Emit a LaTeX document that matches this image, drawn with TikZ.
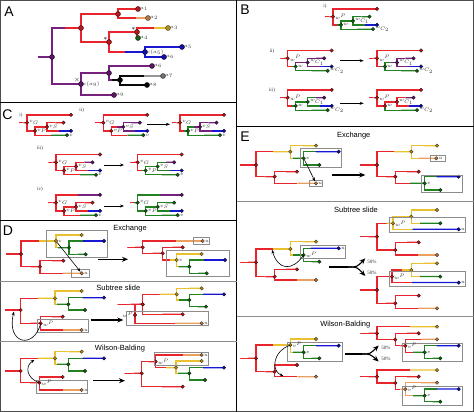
\documentclass[tikz,border=0pt]{standalone}
\usepackage{fontspec}
\setmainfont{Liberation Serif}
\setsansfont{Liberation Sans}
\usetikzlibrary{calc,arrows.meta}
\definecolor{cR}{RGB}{232,36,44}
\definecolor{cO}{RGB}{236,160,96}
\definecolor{cY}{RGB}{232,192,48}
\definecolor{cG}{RGB}{34,130,34}
\definecolor{cB}{RGB}{24,24,210}
\definecolor{cP}{RGB}{118,32,128}
\definecolor{cS}{RGB}{150,150,150}
\definecolor{cK}{RGB}{10,10,10}
\def\getcols#1/#2/#3\relax{\def\colA{#1}\def\colB{#2}}
\def\dotlist{}
\newcommand\br[4][0.5]{\getcols#4/#4/\relax
 \draw[brl,color=\colA] (#2) |- ($(#2|-#3)!#1!(#3)$);
 \draw[brl,color=\colB] ($(#2|-#3)!#1!(#3)$) -- (#3);
 \xdef\dotlist{\unexpanded\expandafter{\dotlist}\noexpand\dt{#3}{\colB}}}
\newcommand\dt[2]{\node[dot,fill=#2!75!black,draw=#2!35!black] (#1o) at (#1) {};}
\newcommand\flushdots{\dotlist\gdef\dotlist{}}
\def\pf{X}
\newcommand\ctree[9]{%
 \begin{scope}[shift={(#1,#2)}]
  \coordinate (\pf s) at (-7.5,0); \coordinate (\pf r) at (0,0);
  \coordinate (\pf U) at (44,-7.8); \coordinate (\pf P) at (8,8.2);
  \coordinate (\pf S) at (20,4.2); \coordinate (\pf S1) at (36.5,0);
  \coordinate (\pf S2) at (44,8.2); \coordinate (\pf V) at (40,12.5);
 \end{scope}
 \br{\pf s}{\pf r}{#3}\br{\pf r}{\pf U}{#4}\br{\pf r}{\pf P}{#5}\br{\pf P}{\pf S}{#6}%
 \br{\pf S}{\pf S1}{#7}\br{\pf S}{\pf S2}{#8}\br{\pf P}{\pf V}{#9}\flushdots}
\newcommand\blabs[1]{\node[lab,anchor=west] at (#1r) {$w^P$};
 \node[lab,anchor=west] at (#1P) {$w$};
 \node[lab,anchor=west] at (#1S) {$w_{C_1}$};
 \node[lab,anchor=west] at (#1V) {$w_{C_2}$};}
\newcommand\clabs[1]{\node[lab,anchor=west] at (#1r) {$v_G$};
 \node[lab,anchor=west] at (#1P) {$v_P$};
 \node[lab,anchor=west] at (#1S) {$v_S$};
 \node[lab,anchor=west] at (#1V) {$v$};}
\begin{document}
\begin{tikzpicture}[x=1pt,y=-1pt,
 brl/.style={line width=1.25pt},
 dot/.style={circle,inner sep=0pt,minimum size=3.4pt,line width=0.45pt},
 lab/.style={font=\fontsize{4.5}{5}\selectfont,inner sep=0pt,xshift=2pt,text=black!80},
 ttl/.style={font=\fontsize{7.5}{8}\sffamily},
 pl/.style={font=\fontsize{14}{14}\sffamily},
 rn/.style={font=\fontsize{5}{5}\selectfont,text=black!80},
 bx/.style={draw=black!45,line width=0.8pt},
 ar/.style={line width=0.6pt,-{Stealth[length=4pt,width=3pt]}},
 bar/.style={line width=1.1pt,-{Stealth[length=6pt,width=5pt]}},
 sep/.style={line width=1.2pt},
 ssep/.style={line width=0.6pt,black!45}]
\useasboundingbox (0,0) rectangle (474,412);
% frame and dividers
\draw[line width=0.8pt,black!70] (0.4,0.4) rectangle (473.6,411.6);
\draw[sep] (236.5,0) -- (236.5,412);
\draw[sep] (0,102.5) -- (236.5,102.5);
\draw[sep] (0,220.5) -- (236.5,220.5);
\draw[sep] (236.5,126.5) -- (474,126.5);
\draw[ssep] (0,281) -- (236.5,281);
\draw[ssep] (0,341.5) -- (236.5,341.5);
\draw[ssep] (236.5,201.7) -- (474,201.7);
\draw[ssep] (236.5,316.7) -- (474,316.7);
% panel letters and titles
\node[pl] (LA) at (9,12) {A};
\node[pl] (LB) at (245,10) {B};
\node[pl] (LC) at (7.5,114.5) {C};
\node[pl] (LD) at (8,230.5) {D};
\node[pl] (LE) at (245,137) {E};
\node[ttl] (tD1) at (130,229) {Exchange};
\node[ttl] (tD2) at (118.3,288.3) {Subtree slide};
\node[ttl] (tD3) at (120,349) {Wilson-Balding};
\node[ttl] (tE1) at (353.7,135.7) {Exchange};
\node[ttl] (tE2) at (356,210) {Subtree slide};
\node[ttl] (tE3) at (345.3,325) {Wilson-Balding};
% ---------------- A
\begin{scope}[brl/.append style={line width=2pt},dot/.append style={minimum size=5pt},
  lab/.append style={font=\fontsize{5.5}{6}\selectfont}]
\coordinate (As) at (38,57); \coordinate (Ar) at (52,57);
\coordinate (An1) at (81,28); \coordinate (An2) at (118,14);
\coordinate (A1) at (138,9); \coordinate (A2) at (148,18);
\coordinate (An3) at (109,42); \coordinate (An4) at (137,32);
\coordinate (A3) at (168,28); \coordinate (A4) at (138,38);
\coordinate (An5) at (145,52); \coordinate (A5) at (182,47); \coordinate (A6) at (164,57);
\coordinate (An6) at (81,84); \coordinate (An7) at (109,73);
\coordinate (A7) at (152,66); \coordinate (An8) at (120,80);
\coordinate (A8) at (163,76); \coordinate (A9) at (147,85); \coordinate (A10) at (114,95);
\br{As}{Ar}{cP}
\br[0.45]{Ar}{An1}{cP/cR}
\br{An1}{An2}{cR}
\br{An2}{A1}{cR}
\br[0.6]{An2}{A2}{cR/cO}
\br{An1}{An3}{cR}
\br{An3}{An4}{cR}
\br[0.55]{An4}{A3}{cR/cY}
\br[0.55]{An4}{A4}{cR/cG}
\br[0.45]{An3}{An5}{cR/cB}
\br{An5}{A5}{cB}
\br{An5}{A6}{cB}
\br{Ar}{An6}{cP}
\br{An6}{An7}{cP}
\br{An7}{A7}{cP}
\br[0.3]{An7}{An8}{cP/cK}
\br[0.55]{An8}{A8}{cK/cS}
\br{An8}{A9}{cK}
\br{An6}{A10}{cP}
\flushdots
\node[lab,anchor=west] at (A1) {$a_1$};
\node[lab,anchor=west] at (A2) {$a_2$};
\node[lab,anchor=west] at (A3) {$a_3$};
\node[lab,anchor=west] at (A4) {$a_4$};
\node[lab,anchor=west] at (A5) {$a_5$};
\node[lab,anchor=west] at (A6) {$a_6$};
\node[lab,anchor=west] at (A7) {$a_6$};
\node[lab,anchor=west] at (A8) {$a_7$};
\node[lab,anchor=west] at (A9) {$a_8$};
\node[lab,anchor=west] at (A10) {$a_9$};
\node[lab,anchor=west] at (An5) {$c(a_5)$};
\node[lab,anchor=west] at (An6) {$c(a_9)$};
\node[font=\fontsize{7}{7}\selectfont] (st1) at (105.5,38.5) {$\ast$};
\node[font=\fontsize{7}{7}\selectfont] (st2) at (133.5,28.5) {$\ast$};
\node[font=\fontsize{6}{6}\selectfont] (cr1) at (77,80) {$\times$};
\end{scope}
% ---------------- B
\node[rn] (Bl1) at (325,6) {i)};
\node[rn] (Bl2) at (272,51.7) {ii)};
\node[rn] (Bl3) at (272,90) {iii)};
\def\pf{Bi}\ctree{333}{16.7}{cR}{cR}{cR/cG}{cG}{cG}{cG/cB}{cG}\blabs{Bi}
\def\pf{Bl}\ctree{287.7}{58.3}{cR}{cR}{cR/cG}{cP}{cP}{cP/cB}{cG}\blabs{Bl}
\def\pf{Bm}\ctree{377}{58.3}{cR}{cR}{cR/cG}{cG/cP}{cP}{cP/cB}{cG}\blabs{Bm}
\def\pf{Bn}\ctree{287.7}{97.7}{cR}{cR}{cR/cG}{cG}{cG/cP}{cG/cB}{cG}\blabs{Bn}
\def\pf{Bo}\ctree{377}{97.7}{cR}{cR}{cR}{cR}{cR/cP}{cR/cB}{cG}\blabs{Bo}
\coordinate (Ba1) at (340.3,60.7); \coordinate (Ba2) at (363.7,60.7);
\coordinate (Ba3) at (340.3,103.3); \coordinate (Ba4) at (363.7,103.3);
\draw[ar] (Ba1) -- (Ba2); \draw[ar] (Ba3) -- (Ba4);
% ---------------- C
\node[rn] (Cl1) at (21,115.5) {i)};
\node[rn] (Cl2) at (81.7,110) {ii)};
\node[rn] (Cl3) at (40,148) {iii)};
\node[rn] (Cl4) at (40,189.3) {iv)};
\def\pf{Ci}\ctree{27}{122.7}{cR}{cR}{cR}{cR}{cR}{cR/cB}{cR/cG}\clabs{Ci}
\def\pf{Cl}\ctree{103.3}{122.7}{cR}{cR}{cR}{cR/cP}{cP}{cP/cB}{cR/cG}\clabs{Cl}
\def\pf{Cm}\ctree{180}{122.7}{cR}{cR}{cR/cG}{cG/cP}{cP}{cP/cB}{cG}\clabs{Cm}
\def\pf{Cn}\ctree{56}{162.3}{cR}{cR}{cR}{cR}{cR/cP}{cR/cB}{cR/cG}\clabs{Cn}
\def\pf{Co}\ctree{137.7}{162.3}{cR}{cR}{cR/cG}{cG}{cG/cP}{cG/cB}{cG}\clabs{Co}
\def\pf{Cq}\ctree{56}{202.7}{cR}{cR/cP}{cR}{cR}{cR}{cR/cB}{cR/cG}\clabs{Cq}
\def\pf{Cr}\ctree{137.7}{202.7}{cR/cG}{cG/cP}{cG}{cG}{cG}{cG/cB}{cG}\clabs{Cr}
\coordinate (Ca1) at (146.7,124.3); \coordinate (Ca2) at (170,124.3);
\coordinate (Ca3) at (104,165); \coordinate (Ca4) at (124,165);
\coordinate (Ca5) at (104,206); \coordinate (Ca6) at (124,206);
\draw[ar] (Ca1) -- (Ca2); \draw[ar] (Ca3) -- (Ca4); \draw[ar] (Ca5) -- (Ca6);
% ---------------- D exchange
\coordinate (Dxs) at (6,254); \coordinate (Dxr) at (21,254); \coordinate (Dxv) at (56,241);
\coordinate (Dxy) at (81.7,235); \coordinate (Dxg) at (69,247.7); \coordinate (Dxb) at (104,241);
\coordinate (Dxh) at (85.7,254.3); \coordinate (Dxq) at (40,266.7); \coordinate (Dxe) at (63.3,260.7);
\coordinate (Dxu) at (81.7,273.3);
\br{Dxs}{Dxr}{cR}\br{Dxr}{Dxv}{cR/cY}\br{Dxv}{Dxy}{cY}\br[0.15]{Dxv}{Dxg}{cY/cG}
\br[0.4]{Dxg}{Dxb}{cG/cB}\br{Dxg}{Dxh}{cG}\br{Dxr}{Dxq}{cR}\br{Dxq}{Dxe}{cR}
\br[0.55]{Dxq}{Dxu}{cR/cO}\flushdots
\draw[bx] (46.7,230.7) rectangle (107.3,257.7);
\draw[bx] (71.7,269.3) rectangle (89.3,277.3);
\node[lab,anchor=west] at (Dxv) {$v$}; \node[lab,anchor=west] at (Dxu) {$u$};
\draw[ar,shorten <=2pt,shorten >=2pt] (Dxv) -- (Dxu);
\coordinate (Dxa1) at (98.3,259.3); \coordinate (Dxa2) at (128,259.3);
\draw[bar] (Dxa1) -- (Dxa2);
\coordinate (Dys) at (127.7,247.3); \coordinate (Dyr) at (142.7,247.3); \coordinate (Dyu) at (202.7,241);
\coordinate (Dyq) at (162.7,253.3); \coordinate (Dye) at (182.7,247.3); \coordinate (Dyv) at (176.7,260);
\coordinate (Dyy) at (201.7,254); \coordinate (Dyg) at (189.3,266.7); \coordinate (Dyb) at (225,260);
\coordinate (Dyh) at (206.7,273.3);
\br{Dys}{Dyr}{cR}\br[0.55]{Dyr}{Dyu}{cR/cO}\br{Dyr}{Dyq}{cR}\br{Dyq}{Dye}{cR}
\br{Dyq}{Dyv}{cR/cY}\br{Dyv}{Dyy}{cY}\br[0.15]{Dyv}{Dyg}{cY/cG}\br[0.4]{Dyg}{Dyb}{cG/cB}
\br{Dyg}{Dyh}{cG}\flushdots
\draw[bx] (193.3,237.7) rectangle (209.5,244.3);
\draw[bx] (166.7,250) rectangle (229.3,276.7);
\node[lab,anchor=west] at (Dyv) {$v$}; \node[lab,anchor=west] at (Dyu) {$u$};
% ---------------- D subtree slide
\coordinate (Dss) at (5,310); \coordinate (Dsr) at (20.7,310); \coordinate (Dsv) at (55,298.3);
\coordinate (Dsy) at (81.7,291); \coordinate (Dsg) at (68.3,304.3); \coordinate (Dsb) at (104,297.7);
\coordinate (Dsh) at (85,310); \coordinate (Dsw) at (40.7,323.3); \coordinate (Dse) at (62.7,316.7);
\coordinate (Dsu) at (81.7,330);
\br{Dss}{Dsr}{cR}\br{Dsr}{Dsv}{cR/cY}\br{Dsv}{Dsy}{cY}\br[0.15]{Dsv}{Dsg}{cY/cG}
\br[0.4]{Dsg}{Dsb}{cG/cB}\br{Dsg}{Dsh}{cG}\br{Dsr}{Dsw}{cR}\br{Dsw}{Dse}{cR}
\br[0.55]{Dsw}{Dsu}{cR/cO}\flushdots
\draw[bx] (37.3,319) rectangle (88.3,332.3);
\node[lab,anchor=west] at (Dsw) {$w^P$}; \node[lab,anchor=west] at (Dsu) {$u$};
\coordinate (Dsz) at (14,311.5);
\draw[ar] (Dsw) .. controls (34,350) and (6,344) .. (Dsz);
\coordinate (Dsa1) at (90.7,320); \coordinate (Dsa2) at (123.3,320);
\draw[bar] (Dsa1) -- (Dsa2);
\coordinate (Dts) at (118,304.3); \coordinate (Dtw) at (135,315); \coordinate (Dtr) at (142.7,304.3);
\coordinate (Dtv) at (176.7,294.3); \coordinate (Dty) at (201.7,288.3); \coordinate (Dtg) at (189.3,300);
\coordinate (Dtb) at (224,294.3); \coordinate (Dth) at (206,306.7); \coordinate (Dte) at (182.7,314.3);
\coordinate (Dtu) at (201.7,323.3);
\br{Dts}{Dtr}{cR}\br{Dtw}{Dtr}{cR}\br[0.6]{Dtw}{Dtu}{cR/cO}\br{Dtr}{Dtv}{cR/cY}
\br{Dtv}{Dty}{cY}\br[0.15]{Dtv}{Dtg}{cY/cG}\br[0.4]{Dtg}{Dtb}{cG/cB}\br{Dtg}{Dth}{cG}
\br{Dtr}{Dte}{cR}\flushdots\dt{Dtw}{cR}
\draw[bx] (126,311) rectangle (208.3,325.7);
\node[lab,anchor=east,xshift=-3.5pt] at (Dtw) {$w^P$}; \node[lab,anchor=west] at (Dtu) {$u$};
% ---------------- D Wilson-Balding
\coordinate (Dws) at (5,371); \coordinate (Dwr) at (20.7,371); \coordinate (Dwv) at (55,358.3);
\coordinate (Dwy) at (81.7,351.7); \coordinate (Dwg) at (68.3,364.3); \coordinate (Dwb) at (104,358.3);
\coordinate (Dwh) at (85,371); \coordinate (Dww) at (39.3,382.7); \coordinate (Dwe) at (62.7,377);
\coordinate (Dwu) at (81.7,390);
\br{Dws}{Dwr}{cR}\br{Dwr}{Dwv}{cR/cY}\br{Dwv}{Dwy}{cY}\br[0.15]{Dwv}{Dwg}{cY/cG}
\br[0.4]{Dwg}{Dwb}{cG/cB}\br{Dwg}{Dwh}{cG}\br{Dwr}{Dww}{cR}\br{Dww}{Dwe}{cR}
\br[0.55]{Dww}{Dwu}{cR/cO}\flushdots
\draw[bx] (36,380) rectangle (87.3,393.3);
\node[lab,anchor=west] at (Dww) {$w^P$}; \node[lab,anchor=west] at (Dwu) {$u$};
\coordinate (Dwz) at (34.5,359.8);
\draw[ar] (Dww) .. controls (26,378) and (25,366) .. (Dwz);
\coordinate (Dwa1) at (93.3,380.7); \coordinate (Dwa2) at (125,380.7);
\draw[bar] (Dwa1) -- (Dwa2);
\coordinate (Dvs) at (125,373.3); \coordinate (Dvr) at (141.7,373.3); \coordinate (Dvw) at (155.7,361.7);
\coordinate (Dvu) at (201.7,355); \coordinate (Dvv) at (176,367.7); \coordinate (Dvy) at (201.7,361);
\coordinate (Dvg) at (189.3,373.3); \coordinate (Dvb) at (224,367.7); \coordinate (Dvh) at (205,380);
\coordinate (Dve) at (182.7,386.7);
\br{Dvs}{Dvr}{cR}\br{Dvr}{Dvw}{cR}\br[0.6]{Dvw}{Dvu}{cR/cO}\br{Dvw}{Dvv}{cR/cY}
\br{Dvv}{Dvy}{cY}\br[0.15]{Dvv}{Dvg}{cY/cG}\br[0.4]{Dvg}{Dvb}{cG/cB}\br{Dvg}{Dvh}{cG}
\br{Dvr}{Dve}{cR}\flushdots
\draw[bx] (154,352.7) rectangle (208.3,365);
\node[lab,anchor=west] at (Dvw) {$w^P$}; \node[lab,anchor=west] at (Dvu) {$u$};
% ---------------- E exchange
\coordinate (Exs) at (240.3,165); \coordinate (Exr) at (256,165); \coordinate (Exy) at (290.3,151.7);
\coordinate (Exa) at (316,145.7); \coordinate (Exv) at (303.7,158.3); \coordinate (Exb) at (338.7,151.7);
\coordinate (Exh) at (319.3,165); \coordinate (ExL) at (274.7,176.7); \coordinate (Exe) at (297,171.7);
\coordinate (Exu) at (316,183.3);
\br{Exs}{Exr}{cR}\br{Exr}{Exy}{cR/cY}\br{Exy}{Exa}{cY}\br[0.2]{Exy}{Exv}{cY/cG}
\br[0.35]{Exv}{Exb}{cG/cB}\br{Exv}{Exh}{cG}\br{Exr}{ExL}{cR}\br{ExL}{Exe}{cR}
\br[0.55]{ExL}{Exu}{cR/cO}\flushdots
\draw[bx] (300.3,148.3) rectangle (341,167.3);
\draw[bx] (309.7,180.7) rectangle (322.7,186.7);
\node[lab,anchor=west] at (Exv) {$v$}; \node[lab,anchor=west] at (Exu) {$u$};
\draw[ar,shorten <=2pt,shorten >=2pt] (Exv) -- (Exu);
\coordinate (Exa1) at (332,175); \coordinate (Exa2) at (365.3,175);
\draw[bar] (Exa1) -- (Exa2);
\coordinate (Eys) at (360.3,165); \coordinate (Eyr) at (377,165); \coordinate (Eyy) at (411.3,151.7);
\coordinate (Eya) at (437,145.7); \coordinate (Eyu) at (436.3,158.3); \coordinate (EyL) at (395.3,176.7);
\coordinate (Eye) at (418.7,171.7); \coordinate (Eyv) at (424.7,183.3); \coordinate (Eyb) at (458.7,176.7);
\coordinate (Eyh) at (440.3,190);
\br{Eys}{Eyr}{cR}\br{Eyr}{Eyy}{cR/cY}\br{Eyy}{Eya}{cY}\br[0.3]{Eyy}{Eyu}{cY/cO}
\br{Eyr}{EyL}{cR}\br{EyL}{Eye}{cR}\br{EyL}{Eyv}{cR/cG}\br[0.35]{Eyv}{Eyb}{cG/cB}
\br{Eyv}{Eyh}{cG}\flushdots
\draw[bx] (430.3,155) rectangle (445,161.7);
\draw[bx] (421,175) rectangle (462,192.3);
\node[lab,anchor=west] at (Eyv) {$v$}; \node[lab,anchor=west] at (Eyu) {$u$};
% ---------------- E subtree slide
\coordinate (Ess) at (240.3,262.3); \coordinate (Esr) at (256,262.3); \coordinate (Esy) at (290.3,249);
\coordinate (Esa) at (316,241.7); \coordinate (Esw) at (303.7,255); \coordinate (Esb) at (338.7,248.3);
\coordinate (Esh) at (319.3,261.7); \coordinate (EsL) at (274.7,276.7); \coordinate (Ese) at (297,269.3);
\coordinate (Eso) at (316,280);
\br{Ess}{Esr}{cR}\br{Esr}{Esy}{cR/cY}\br{Esy}{Esa}{cY}\br[0.2]{Esy}{Esw}{cY/cG}
\br[0.2]{Esw}{Esb}{cG/cB}\br{Esw}{Esh}{cG}\br{Esr}{EsL}{cR}\br{EsL}{Ese}{cR}
\br[0.55]{EsL}{Eso}{cR/cO}\flushdots
\draw[bx] (300.3,245) rectangle (345.3,258.3);
\node[lab,anchor=west] at (Esw) {$w^P$}; \node[lab,anchor=west] at (Esb) {$u$};
\coordinate (Esz) at (272,249.8);
\draw[ar] (Esw) .. controls (292,272) and (278,270) .. (Esz);
\coordinate (Ef0) at (328.7,267); \coordinate (Ef1) at (348,267);
\coordinate (Ef2) at (365.3,258.3); \coordinate (Ef3) at (365.3,276);
\draw[line width=1.1pt] (Ef0) -- (Ef1);
\draw[bar] (Ef1) .. controls (357,267) .. (Ef2);
\draw[bar] (Ef1) .. controls (357,267) .. (Ef3);
\node[rn] (Ep1) at (372,261.5) {50\%}; \node[rn] (Ep2) at (372,272.5) {50\%};
\coordinate (E1s) at (360.3,236.7); \coordinate (E1r) at (377,236.7); \coordinate (E1w) at (393,223.3);
\coordinate (E1y) at (411.3,216.7); \coordinate (E1a) at (437,210); \coordinate (E1h) at (440.3,223.3);
\coordinate (E1b) at (458.7,229.3); \coordinate (E1L) at (395.3,250); \coordinate (E1e) at (418.7,242.3);
\coordinate (E1o) at (437,255);
\br{E1s}{E1r}{cR}\br[0.6]{E1r}{E1w}{cR/cY}\br{E1w}{E1y}{cY}\br{E1y}{E1a}{cY}
\br[0.3]{E1y}{E1h}{cY/cG}\br[0.3]{E1w}{E1b}{cY/cB}\br{E1r}{E1L}{cR}\br{E1L}{E1e}{cR}
\br[0.55]{E1L}{E1o}{cR/cO}\flushdots
\draw[bx] (389.7,217.7) rectangle (465.3,232.3);
\node[lab,anchor=west] at (E1w) {$w^P$}; \node[lab,anchor=west] at (E1b) {$u$};
\coordinate (E2s) at (360.3,290); \coordinate (E2r) at (377,290); \coordinate (E2w) at (392,276.6);
\coordinate (E2y) at (411.3,270); \coordinate (E2a) at (437,263.3); \coordinate (E2h) at (440.3,276.6);
\coordinate (E2b) at (458.7,282.6); \coordinate (E2L) at (395.3,303.3); \coordinate (E2e) at (418.7,295.6);
\coordinate (E2o) at (437,308.3);
\br{E2s}{E2r}{cR}\br{E2r}{E2w}{cR}\br{E2w}{E2y}{cR/cY}\br{E2y}{E2a}{cY}
\br[0.3]{E2y}{E2h}{cY/cG}\br[0.3]{E2w}{E2b}{cR/cB}\br{E2r}{E2L}{cR}\br{E2L}{E2e}{cR}
\br[0.55]{E2L}{E2o}{cR/cO}\flushdots
\draw[bx] (389.7,271.7) rectangle (465.3,286.7);
\node[lab,anchor=west] at (E2w) {$w^P$}; \node[lab,anchor=west] at (E2b) {$u$};
% ---------------- E Wilson-Balding
\coordinate (Ews) at (240.3,358.3); \coordinate (Ewr) at (256,358.3); \coordinate (Eww) at (290.3,345);
\coordinate (Ewa) at (316,339); \coordinate (Ewv) at (303.7,352.3); \coordinate (Ewb) at (338.7,345.7);
\coordinate (Ewh) at (319.3,358.3); \coordinate (EwL) at (274.7,371.7); \coordinate (Ewe) at (297,365);
\coordinate (Ewo) at (316,376.7);
\br{Ews}{Ewr}{cR}\br{Ewr}{Eww}{cR/cY}\br{Eww}{Ewa}{cY}\br[0.2]{Eww}{Ewv}{cY/cG}
\br[0.35]{Ewv}{Ewb}{cG/cB}\br{Ewv}{Ewh}{cG}\br{Ewr}{EwL}{cR}\br{EwL}{Ewe}{cR}
\br[0.55]{EwL}{Ewo}{cR/cO}\flushdots
\draw[bx] (287,342.7) rectangle (342,361.7);
\node[lab,anchor=west] at (Eww) {$v^P$}; \node[lab,anchor=west] at (Ewv) {$v$};
\coordinate (Ewz) at (283.7,376.2);
\draw[ar] (Eww) .. controls (272,352) and (271,371) .. (Ewz);
\coordinate (Eg0) at (345.3,354); \coordinate (Eg1) at (362,354);
\coordinate (Eg2) at (378.7,345.5); \coordinate (Eg3) at (378.7,361.5);
\draw[line width=1.1pt] (Eg0) -- (Eg1);
\draw[bar] (Eg1) .. controls (370,354) .. (Eg2);
\draw[bar] (Eg1) .. controls (370,354) .. (Eg3);
\node[rn] (Eq1) at (386,348.3) {50\%}; \node[rn] (Eq2) at (386,358.8) {50\%};
\coordinate (Eas) at (360.3,333.3); \coordinate (Ear) at (377,333.3); \coordinate (Eaa) at (437,326.7);
\coordinate (EaL) at (395.3,339.6); \coordinate (Eae) at (418.7,333.3); \coordinate (Eaw) at (405.3,345.8);
\coordinate (Eao) at (437,339.3); \coordinate (Eav) at (424.7,352.3); \coordinate (Eab) at (458.7,345.7);
\coordinate (Eah) at (440.3,358.3);
\br{Eas}{Ear}{cR}\br[0.55]{Ear}{Eaa}{cR/cY}\br{Ear}{EaL}{cR}\br{EaL}{Eae}{cR}
\br{EaL}{Eaw}{cR}\br{Eaw}{Eao}{cR/cO}\br[0.4]{Eaw}{Eav}{cR/cG}\br[0.35]{Eav}{Eab}{cG/cB}
\br{Eav}{Eah}{cG}\flushdots
\draw[bx] (402,343.3) rectangle (462,361.7);
\node[lab,anchor=west] at (Eaw) {$v^P$}; \node[lab,anchor=west] at (Eav) {$v$};
\coordinate (Ebs) at (360.3,376.7); \coordinate (Ebr) at (377,376.7); \coordinate (Eba) at (437,370.1);
\coordinate (EbL) at (395.3,383); \coordinate (Ebe) at (418.7,376.7); \coordinate (Ebw) at (405.3,389.2);
\coordinate (Ebo) at (437,382.7); \coordinate (Ebv) at (424.7,395.7); \coordinate (Ebb) at (458.7,389.1);
\coordinate (Ebh) at (440.3,401.7);
\br{Ebs}{Ebr}{cR}\br[0.55]{Ebr}{Eba}{cR/cY}\br{Ebr}{EbL}{cR}\br{EbL}{Ebe}{cR}
\br{EbL}{Ebw}{cR/cO}\br{Ebw}{Ebo}{cO}\br[0.4]{Ebw}{Ebv}{cO/cG}\br[0.35]{Ebv}{Ebb}{cG/cB}
\br{Ebv}{Ebh}{cG}\flushdots
\draw[bx] (402,386.7) rectangle (462,405.1);
\node[lab,anchor=west] at (Ebw) {$v^P$}; \node[lab,anchor=west] at (Ebv) {$v$};
\end{tikzpicture}
\end{document}
